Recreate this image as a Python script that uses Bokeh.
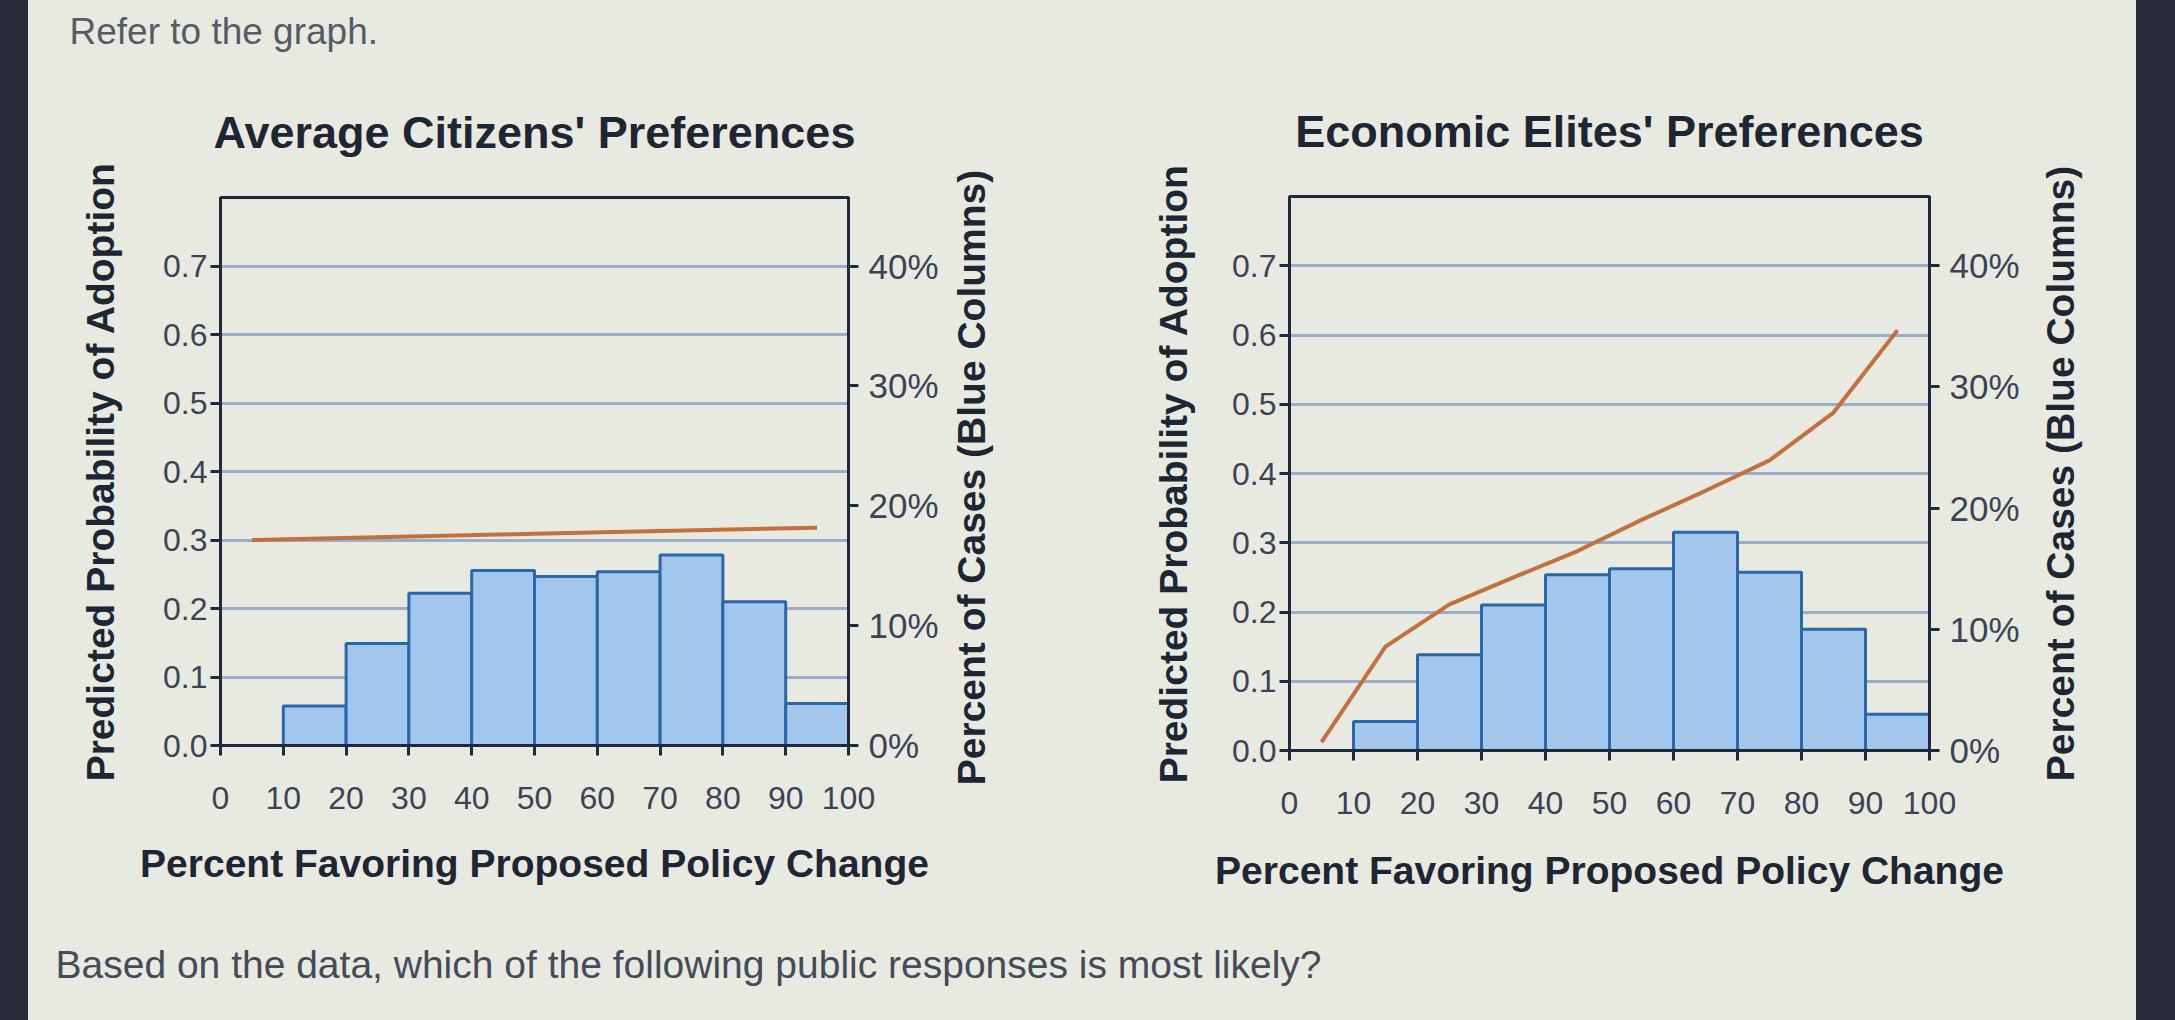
import math

from bokeh.plotting import figure
from bokeh.models import (Range1d, LinearAxis, FixedTicker, PrintfTickFormatter,
                          Label, Spacer)
from bokeh.layouts import row, column
from bokeh.embed import file_html
from bokeh.resources import INLINE

# ---- data ---------------------------------------------------------------
# left edges of the 10-point bins of "percent favoring" (bins 10-20 ... 90-100)
bin_left = [10, 20, 30, 40, 50, 60, 70, 80, 90]
bin_width = 10

# percent of cases falling in each bin
citizens_cases = [3.3, 8.5, 12.7, 14.6, 14.1, 14.5, 15.9, 12.0, 3.5]
elites_cases = [2.4, 7.9, 12.0, 14.5, 15.0, 18.0, 14.7, 10.0, 3.0]

# predicted probability of adoption
citizens_curve_x = [5, 50, 95]
citizens_curve_y = [0.300, 0.309, 0.318]
elites_curve_x = [5, 15, 25, 35, 45, 55, 65, 75, 85, 95]
elites_curve_y = [0.012, 0.150, 0.211, 0.250, 0.288, 0.333, 0.375, 0.419, 0.488, 0.607]

x_ticks = [0, 10, 20, 30, 40, 50, 60, 70, 80, 90, 100]
prob_ticks = [0.0, 0.1, 0.2, 0.3, 0.4, 0.5, 0.6, 0.7]
pct_ticks = [0, 10, 20, 30, 40]

chart_titles = ["Average Citizens' Preferences", "Economic Elites' Preferences"]
x_title = "Percent Favoring Proposed Policy Change"
y_title = "Predicted Probability of Adoption"
y2_title = "Percent of Cases (Blue Columns)"
intro_text = "Refer to the graph."
question_text = "Based on the data, which of the following public responses is most likely?"

# ---- styling -------------------------------------------------------------
FONT = "Liberation Sans"
BG = "#e8eae2"
BEZEL = "#262a38"
FRAME = "#1f2b3d"
GRID = "#9aaecb"
BAR_FILL = "#a2c6ec"
BAR_LINE = "#2b66a8"
CURVE = "#c3703f"
TICK_TXT = "#3c4454"
TITLE_TXT = "#1e2633"

X_MAX = 100
PROB_MAX = 0.8
PCT_MAX = PROB_MAX / 0.7 * 40  # 0.7 on the left axis lines up with 40%

TOP_H, MID_H, BOT_H = 60, 860, 100
LEFT_BEZEL, RIGHT_BEZEL = 28, 39
INNER_W = 2175 - LEFT_BEZEL - RIGHT_BEZEL


def unaligned(p):
    # every canvas keeps its own frame instead of lining up with its neighbours
    try:
        p.frame_align = False
    except AttributeError:
        pass
    return p


def make_chart(title, cases, cx, cy, width, borders, y_std, x_std, title_std):
    left, right, top, bottom = borders
    p = figure(width=width, height=MID_H, output_backend="svg", toolbar_location=None,
               title=title,
               x_range=Range1d(0, X_MAX), y_range=Range1d(0, PROB_MAX),
               min_border_left=left, min_border_right=right,
               min_border_top=top, min_border_bottom=bottom,
               background_fill_color=BG, border_fill_color=BG,
               outline_line_color=FRAME, outline_line_width=3)
    unaligned(p)
    p.extra_y_ranges = {"pct": Range1d(0, PCT_MAX)}

    p.title.align = "center"
    p.title.text_font = FONT
    p.title.text_font_size = "45px"
    p.title.text_font_style = "bold"
    p.title.text_color = TITLE_TXT
    p.title.standoff = title_std

    p.xgrid.visible = False
    p.ygrid.ticker = FixedTicker(ticks=prob_ticks[1:])
    p.ygrid.grid_line_color = GRID
    p.ygrid.grid_line_width = 3

    right_axis = LinearAxis(y_range_name="pct")
    p.add_layout(right_axis, "right")

    for ax in p.axis:
        ax.axis_line_color = FRAME
        ax.axis_line_width = 3
        ax.major_tick_line_color = FRAME
        ax.major_tick_line_width = 3
        ax.major_tick_in = 0
        ax.major_tick_out = 10
        ax.minor_tick_line_color = None
        ax.major_label_text_font = FONT
        ax.major_label_text_font_size = "32px"
        ax.major_label_text_color = TICK_TXT
        ax.axis_label_text_font = FONT
        ax.axis_label_text_font_size = "39px"
        ax.axis_label_text_font_style = "bold"
        ax.axis_label_text_color = TITLE_TXT

    p.xaxis.ticker = FixedTicker(ticks=x_ticks)
    p.xaxis.major_label_standoff = 31
    p.xaxis.axis_label = x_title
    p.xaxis.axis_label_standoff = x_std

    p.yaxis[0].ticker = FixedTicker(ticks=prob_ticks)
    p.yaxis[0].formatter = PrintfTickFormatter(format="%.1f")
    p.yaxis[0].major_label_standoff = 3
    p.yaxis[0].axis_label = y_title
    p.yaxis[0].axis_label_standoff = y_std

    right_axis.ticker = FixedTicker(ticks=pct_ticks)
    right_axis.formatter = PrintfTickFormatter(format="%d%%")
    right_axis.major_label_standoff = 10
    right_axis.major_label_text_font_size = "35px"

    p.quad(left=bin_left, right=[b + bin_width for b in bin_left], bottom=0, top=cases,
           y_range_name="pct", fill_color=BAR_FILL, line_color=BAR_LINE, line_width=3)
    p.line(cx, cy, line_color=CURVE, line_width=4)
    return p


def text_strip(width, height, text, x, y, size, color, bold=False, angle=0.0,
               align="left", baseline="alphabetic"):
    """A bare canvas whose frame is the whole figure, holding one text label
    positioned in pixels from its top-left corner."""
    s = figure(width=width, height=height, output_backend="svg", toolbar_location=None,
               title=None,
               x_range=Range1d(0, width), y_range=Range1d(height, 0),
               x_axis_location=None, y_axis_location=None, min_border=0,
               background_fill_color=BG, border_fill_color=BG, outline_line_color=None)
    unaligned(s)
    s.grid.visible = False
    s.add_layout(Label(x=x, y=y, text=text, angle=angle, text_font=FONT,
                       text_font_size=size, text_font_style="bold" if bold else "normal",
                       text_color=color, text_align=align, text_baseline=baseline))
    return s


p1 = make_chart(chart_titles[0], citizens_cases, citizens_curve_x, citizens_curve_y,
                917, (192, 97, 137, 175), 38, 30, 79)
p2 = make_chart(chart_titles[1], elites_cases, elites_curve_x, elites_curve_y,
                1030, (289, 101, 136, 170), 34, 32, 79)

# right-hand axis titles, reading bottom-to-top like the left ones
y2_a = text_strip(55, MID_H, y2_title, 26, 417, "39px", TITLE_TXT, bold=True,
                  angle=math.pi / 2, align="center", baseline="middle")
y2_b = text_strip(106, MID_H, y2_title, 30, 413, "39px", TITLE_TXT, bold=True,
                  angle=math.pi / 2, align="center", baseline="middle")

top = text_strip(INNER_W, TOP_H, intro_text, 41, 31, "37px", "#575b66")
bottom = text_strip(INNER_W, BOT_H, question_text, 27, 44, "39px", "#464b58")

bg = {"background-color": BG}
layout = row(
    Spacer(width=LEFT_BEZEL, height=1020, styles={"background-color": BEZEL}),
    column(top, row(p1, y2_a, p2, y2_b, styles=bg), bottom, styles=bg),
    Spacer(width=RIGHT_BEZEL, height=1020, styles={"background-color": BEZEL}),
    styles=bg,
)

open("out.html", "w").write(file_html(layout, INLINE))
